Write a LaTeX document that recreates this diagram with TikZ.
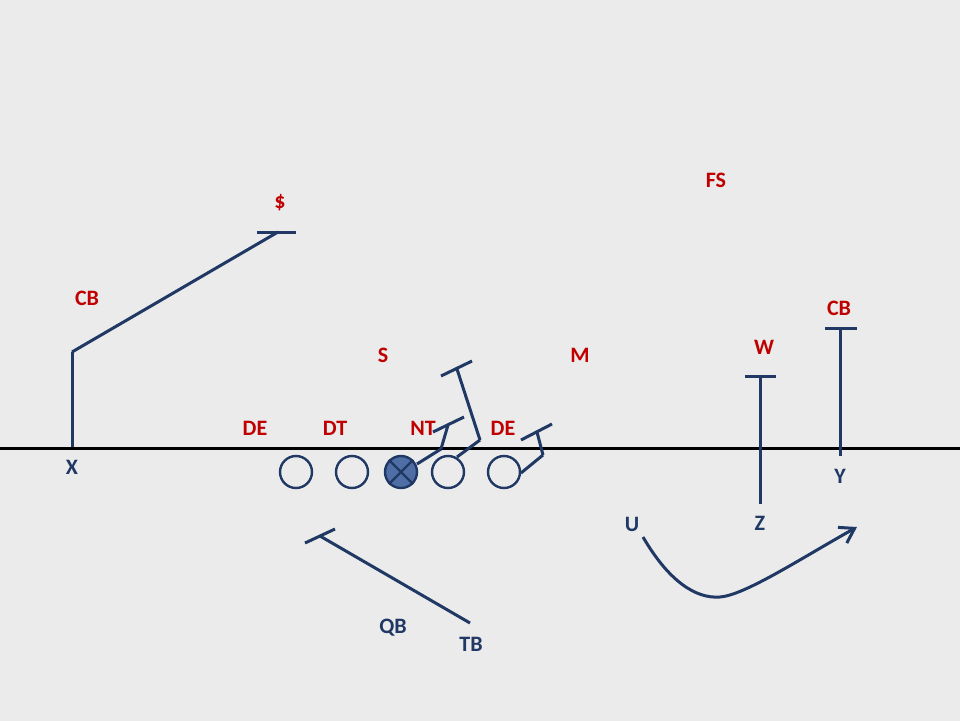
\documentclass[tikz,border=0pt]{standalone}
\usepackage{fontspec}
\setmainfont{Carlito}
\usetikzlibrary{arrows.meta}
\definecolor{fieldgray}{RGB}{235,235,235}
\definecolor{defred}{RGB}{192,0,0}
\definecolor{offblue}{RGB}{31,56,100}
\definecolor{centerfill}{RGB}{79,110,165}
\begin{document}
\begin{tikzpicture}
[x=0.5pt, y=-0.5pt,
  deflabel/.style={text=defred,font=\bfseries\fontsize{11}{13}\selectfont},
  offlabel/.style={text=offblue,font=\bfseries\fontsize{11}{13}\selectfont},
  lineman/.style={shape=circle,draw=offblue,line width=1.2pt,minimum size=16pt,inner sep=0pt},
  routeline/.style={draw=offblue,line width=1.5pt}]
%% field and line of scrimmage
\useasboundingbox (0,0) rectangle (960,720);
\fill[fieldgray] (-6,-6) rectangle (966,726);
\coordinate (losl) at (0,448);
\coordinate (losr) at (960,448);
\draw[line width=1.5pt] (losl) -- (losr);
%% offensive line
\foreach \nodename/\x in {lt/296, lg/352, rg/448, rt/504}
{
  \node (\nodename) at (\x,472) [lineman] {};
}
\node (c) at (401,472) [lineman,fill=centerfill] {};
\draw[offblue,line width=1.2pt] (c.45) -- (c.225) (c.135) -- (c.315);
%% defense
\foreach \nodename/\x/\y/\txt in {cbl/87/298/CB, dollar/280/203/\$,
  del/255/428/DE, dt/335/428/DT, nt/423/428/NT, der/503/428/DE,
  s/383/355/S, m/580/355/M, fs/716/180/FS, w/764/347/W, cbr/839/308/CB}
{
  \node (\nodename) at (\x,\y) [deflabel] {\txt};
}
%% offense
\foreach \nodename/\x/\y/\txt in {x/72/467/X, y/840/476/Y, z/760/523/Z,
  u/632/524/U, qb/393/628/QB, tb/471/644/TB}
{
  \node (\nodename) at (\x,\y) [offlabel] {\txt};
}
%% route points
\foreach \pt/\x/\y in {xs/72/447, xk/72/352, xe/278/232, xbl/257/232, xbr/296/232,
  cs/417/464, ck/441/449, ce/448/425, cbl/433/432, cbr/464/417,
  rgs/457/457, rgk/480/440, rge/457/369, rgbl/441/376, rgbr/472/361,
  rts/521/473, rtk/543/455, rte/537/432, rtbl/521/440, rtbr/552/424,
  zs/760/504, ze/760/376, zbl/745/376, zbr/776/376,
  ys/840/456, ye/840/328, ybl/825/328, ybr/857/328,
  tbs/470/623, tbe/320/536, tbbl/305/543, tbbr/335/529,
  us/643/537, ub/720/597, ue/857/527}
{
  \coordinate (\pt) at (\x,\y);
}
%% routes and blocks
\path
\foreach \startnode/\bendnode/\endnode in {xs/xk/xe, cs/ck/ce, rgs/rgk/rge, rts/rtk/rte}
{
  (\startnode) edge[routeline] (\bendnode)
  (\bendnode) edge[routeline] (\endnode)
};
\path
\foreach \startnode/\endnode in {xbl/xbr, cbl/cbr, rgbl/rgbr, rtbl/rtbr,
  zs/ze, zbl/zbr, ys/ye, ybl/ybr, tbs/tbe, tbbl/tbbr}
{
  (\startnode) edge[routeline] (\endnode)
};
\draw[routeline,-{Straight Barb[length=7pt,width=9pt]}]
  (us) .. controls (668,580) and (695,599) .. (ub)
  .. controls (745,595) and (800,559) .. (ue);
\end{tikzpicture}
\end{document}
